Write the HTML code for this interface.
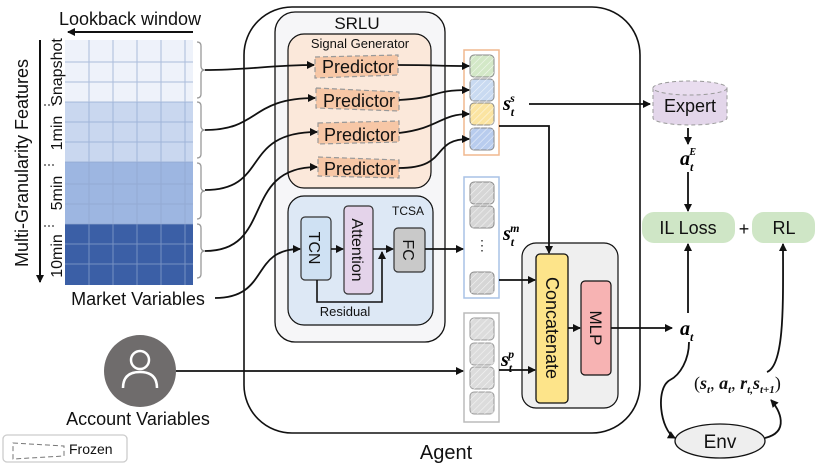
<!DOCTYPE html>
<html><head><meta charset="utf-8"><style>
html,body{margin:0;padding:0;background:#fff;}
svg{display:block;font-family:"Liberation Sans",sans-serif;}
.m{font-family:"Liberation Serif",serif;font-style:italic;font-weight:bold;}
</style></head><body>
<svg width="840" height="467" viewBox="0 0 840 467" xmlns="http://www.w3.org/2000/svg">
<defs>
<marker id="ar" markerWidth="8" markerHeight="8" refX="7" refY="4" orient="auto" markerUnits="userSpaceOnUse"><path d="M0,0 L8,4 L0,8 z" fill="#111"/></marker>
<pattern id="h" width="5" height="5" patternUnits="userSpaceOnUse" patternTransform="rotate(45)"><rect width="5" height="5" fill="none"/><line x1="0" y1="0" x2="0" y2="5" stroke="#fff" stroke-width="1.2" opacity="0.7"/></pattern>
</defs>

<rect x="65" y="40" width="128" height="62" fill="#eef2fa"/>
<rect x="65" y="102" width="128" height="60" fill="#c9d7ef"/>
<rect x="65" y="162" width="128" height="62" fill="#9db6e1"/>
<rect x="65" y="224" width="128" height="61" fill="#3b5fa6"/>
<g stroke="#8fa6cf" stroke-width="1" opacity="0.7">
<line x1="89" y1="40" x2="89" y2="285"/><line x1="113" y1="40" x2="113" y2="285"/><line x1="137" y1="40" x2="137" y2="285"/><line x1="161" y1="40" x2="161" y2="285"/><line x1="185" y1="40" x2="185" y2="285"/>
<line x1="65" y1="62" x2="193" y2="62"/><line x1="65" y1="82" x2="193" y2="82"/><line x1="65" y1="102" x2="193" y2="102"/>
<line x1="65" y1="122" x2="193" y2="122"/><line x1="65" y1="142" x2="193" y2="142"/><line x1="65" y1="162" x2="193" y2="162"/>
<line x1="65" y1="184" x2="193" y2="184"/><line x1="65" y1="204" x2="193" y2="204"/><line x1="65" y1="224" x2="193" y2="224"/>
<line x1="65" y1="244" x2="193" y2="244"/><line x1="65" y1="264" x2="193" y2="264"/>
</g>
<g fill="none" stroke="#999" stroke-width="1.3">
<path d="M197,42 q4,0 4,4 v20 q0,4 4,4 q-4,0 -4,4 v20 q0,4 -4,4"/>
<path d="M197,102 q4,0 4,4 v20 q0,4 4,4 q-4,0 -4,4 v20 q0,4 -4,4"/>
<path d="M197,163 q4,0 4,4 v20 q0,4 4,4 q-4,0 -4,4 v20 q0,4 -4,4"/>
<path d="M197,224 q4,0 4,4 v19 q0,4 4,4 q-4,0 -4,4 v19 q0,4 -4,4"/>
</g>
<text x="130" y="25" font-size="18" text-anchor="middle" fill="#111">Lookback window</text>
<line x1="193" y1="32" x2="68" y2="32" stroke="#111" stroke-width="2" marker-end="url(#ar)"/>
<line x1="40" y1="40" x2="40" y2="282" stroke="#111" stroke-width="2" marker-end="url(#ar)"/>
<text transform="translate(28,163) rotate(-90)" font-size="18" text-anchor="middle" fill="#111">Multi-Granularity Features</text>
<g font-size="16" fill="#111">
<text transform="translate(62,72) rotate(-90)" text-anchor="middle">Snapshot</text>
<text transform="translate(62,133) rotate(-90)" text-anchor="middle">1min</text>
<text transform="translate(62,193) rotate(-90)" text-anchor="middle">5min</text>
<text transform="translate(62,256) rotate(-90)" text-anchor="middle">10min</text>
</g>
<g stroke="#111" stroke-dasharray="2,2"><line x1="44" y1="105" x2="56" y2="105"/><line x1="44" y1="165" x2="56" y2="165"/><line x1="44" y1="226" x2="56" y2="226"/></g>
<text x="138" y="305" font-size="18" text-anchor="middle" fill="#111">Market Variables</text>

<circle cx="140" cy="371" r="36" fill="#6f6c6c"/>
<circle cx="140" cy="360" r="9" fill="none" stroke="#fff" stroke-width="2.5"/>
<path d="M123,388 q0,-16 17,-16 q17,0 17,16" fill="none" stroke="#fff" stroke-width="2.5"/>
<text x="138" y="425" font-size="18" text-anchor="middle" fill="#111">Account Variables</text>
<rect x="3" y="435" width="124" height="27" rx="4" fill="#fff" stroke="#ccc" stroke-width="1.3"/>
<path d="M13,443 L64,446 L64,456 L13,459 z" fill="none" stroke="#777" stroke-dasharray="5,3"/>
<text x="69" y="454" font-size="14" fill="#111">Frozen</text>

<rect x="244" y="7" width="396" height="426" rx="48" fill="#fff" stroke="#111" stroke-width="1.6"/>
<text x="446" y="459" font-size="20" text-anchor="middle" fill="#111">Agent</text>
<rect x="275" y="12" width="170" height="330" rx="20" fill="#f6f6f8" stroke="#111" stroke-width="1.3"/>
<text x="357" y="29" font-size="17" text-anchor="middle" fill="#111">SRLU</text>
<rect x="288" y="34" width="143" height="154" rx="16" fill="#fbe8da" stroke="#111" stroke-width="1.2"/>
<text x="360" y="48" font-size="13" text-anchor="middle" fill="#111">Signal Generator</text>
<g fill="#f7c7a6" stroke="#999" stroke-width="1.2" stroke-dasharray="5,3">
<path d="M315,57 L398,55 L398,75 L315,78 z"/>
<path d="M316,88 L399,92 L399,111 L316,108 z"/>
<path d="M318,123 L399,121 L399,142 L318,144 z"/>
<path d="M318,157 L399,160 L399,178 L318,176 z"/>
</g>
<g font-size="18" fill="#111" text-anchor="middle">
<text x="358" y="73">Predictor</text><text x="359" y="107">Predictor</text><text x="360" y="141">Predictor</text><text x="360" y="175">Predictor</text>
</g>
<rect x="288" y="196" width="145" height="129" rx="16" fill="#dde8f5" stroke="#111" stroke-width="1.2"/>
<text x="408" y="215" font-size="12" text-anchor="middle" fill="#111">TCSA</text>
<rect x="301" y="217" width="30" height="63" rx="4" fill="#cfe1f3" stroke="#333" stroke-width="1.2"/>
<text transform="translate(309,248) rotate(90)" font-size="16" text-anchor="middle" fill="#111">TCN</text>
<rect x="344" y="206" width="29" height="88" rx="4" fill="#e4d3ea" stroke="#333" stroke-width="1.2"/>
<text transform="translate(352,250) rotate(90)" font-size="16" text-anchor="middle" fill="#111">Attention</text>
<rect x="394" y="228" width="31" height="44" rx="4" fill="#c9c9c9" stroke="#333" stroke-width="1.2"/>
<text transform="translate(403,250) rotate(90)" font-size="16" text-anchor="middle" fill="#111">FC</text>
<text x="345" y="316" font-size="13" text-anchor="middle" fill="#111">Residual</text>
<g stroke="#111" stroke-width="1.6" fill="none">
<line x1="331" y1="249" x2="343" y2="249" marker-end="url(#ar)"/>
<line x1="373" y1="249" x2="393" y2="249" marker-end="url(#ar)"/>
<path d="M317,280 V302 H382 V252" marker-end="url(#ar)"/>
</g>

<rect x="464" y="50" width="35" height="105" fill="#fff" stroke="#f0b88f" stroke-width="1.5"/>
<rect x="470" y="55" width="24" height="22" rx="4" fill="#d3e8c7" stroke="#888"/>
<rect x="470" y="79" width="24" height="22" rx="4" fill="#c9daf1" stroke="#888"/>
<rect x="470" y="103" width="24" height="22" rx="4" fill="#fbe4a1" stroke="#888"/>
<rect x="470" y="128" width="24" height="22" rx="4" fill="#b8ccee" stroke="#888"/>
<rect x="464" y="177" width="35" height="121" fill="#fff" stroke="#a9c2e6" stroke-width="1.5"/>
<rect x="470" y="182" width="24" height="22" rx="4" fill="#d6d6d6" stroke="#888"/>
<rect x="470" y="206" width="24" height="22" rx="4" fill="#d6d6d6" stroke="#888"/>
<text x="482" y="250" font-size="14" text-anchor="middle" fill="#333">⋮</text>
<rect x="470" y="272" width="24" height="22" rx="4" fill="#d6d6d6" stroke="#888"/>
<rect x="464" y="313" width="35" height="109" fill="#fff" stroke="#bbb" stroke-width="1.5"/>
<rect x="470" y="318" width="24" height="22" rx="4" fill="#dcdcdc" stroke="#999"/>
<rect x="470" y="343" width="24" height="22" rx="4" fill="#dcdcdc" stroke="#999"/>
<rect x="470" y="367" width="24" height="22" rx="4" fill="#dcdcdc" stroke="#999"/>
<rect x="470" y="392" width="24" height="22" rx="4" fill="#dcdcdc" stroke="#999"/>
<g fill="url(#h)"><rect x="470" y="55" width="24" height="95"/><rect x="470" y="182" width="24" height="46"/><rect x="470" y="272" width="24" height="22"/><rect x="470" y="318" width="24" height="96"/></g>
<text x="503" y="110" font-size="20" class="m">s<tspan font-size="12" dy="6">t</tspan><tspan font-size="12" dx="-4" dy="-14">s</tspan></text>
<text x="503" y="240" font-size="20" class="m">s<tspan font-size="12" dy="6">t</tspan><tspan font-size="12" dx="-4" dy="-14">m</tspan></text>
<text x="501" y="366" font-size="20" class="m">s<tspan font-size="12" dy="6">t</tspan><tspan font-size="12" dx="-4" dy="-14">p</tspan></text>

<rect x="522" y="243" width="96" height="165" rx="14" fill="#efefef" stroke="#111" stroke-width="1.2"/>
<rect x="536" y="254" width="32" height="149" rx="4" fill="#fde48a" stroke="#111" stroke-width="1.3"/>
<text transform="translate(546,328) rotate(90)" font-size="18" text-anchor="middle" fill="#111">Concatenate</text>
<rect x="581" y="281" width="30" height="94" rx="4" fill="#f7b3b3" stroke="#111" stroke-width="1.2"/>
<text transform="translate(590,328) rotate(90)" font-size="17" text-anchor="middle" fill="#111">MLP</text>

<g stroke="#111" stroke-width="1.8" fill="none">
<path d="M205,70 C250,70 270,65 314,65" marker-end="url(#ar)"/>
<path d="M205,130 C260,130 250,98 315,98" marker-end="url(#ar)"/>
<path d="M205,190 C270,190 240,132 317,132" marker-end="url(#ar)"/>
<path d="M205,251 C275,251 240,167 317,167" marker-end="url(#ar)"/>
<path d="M215,298 C270,298 250,249 300,249" marker-end="url(#ar)"/>
<path d="M398,65 C440,65 430,66 469,66" marker-end="url(#ar)"/>
<path d="M399,100 C440,98 430,90 469,90" marker-end="url(#ar)"/>
<path d="M399,133 C440,128 440,114 469,114" marker-end="url(#ar)"/>
<path d="M399,168 C450,168 430,139 469,139" marker-end="url(#ar)"/>
<line x1="425" y1="249" x2="463" y2="249" marker-end="url(#ar)"/>
<line x1="176" y1="371" x2="463" y2="371" marker-end="url(#ar)"/>
<line x1="529" y1="104" x2="650" y2="104" marker-end="url(#ar)"/>
<path d="M499,126 H549 V253" marker-end="url(#ar)"/>
<line x1="499" y1="280" x2="535" y2="280" marker-end="url(#ar)"/>
<line x1="499" y1="370" x2="535" y2="370" marker-end="url(#ar)"/>
<line x1="568" y1="328" x2="580" y2="328" marker-end="url(#ar)"/>
<line x1="611" y1="328" x2="672" y2="328" marker-end="url(#ar)"/>
<line x1="688" y1="128" x2="688" y2="144" marker-end="url(#ar)"/>
<line x1="688" y1="172" x2="688" y2="211" marker-end="url(#ar)"/>
<line x1="688" y1="313" x2="688" y2="244" marker-end="url(#ar)"/>
<path d="M689,342 C689,360 680,375 670,380 C655,388 660,430 675,438" marker-end="url(#ar)"/>
<path d="M765,438 C790,432 780,410 771,400" marker-end="url(#ar)"/>
<path d="M767,372 C785,365 783,300 783,244" marker-end="url(#ar)"/>
</g>

<path d="M653,88 V118 A37,7 0 0 0 727,118 V88" fill="#e3d6ea" stroke="#999" stroke-dasharray="4,3"/>
<ellipse cx="690" cy="88" rx="37" ry="7" fill="#e9ddef" stroke="#999" stroke-dasharray="4,3"/>
<text x="690" y="112" font-size="18" text-anchor="middle" fill="#111">Expert</text>
<text x="680" y="165" font-size="20" class="m">a<tspan font-size="12" dy="6">t</tspan><tspan font-size="10" dx="-4" dy="-16">E</tspan></text>
<rect x="642" y="212" width="93" height="31" rx="12" fill="#cfe6c6"/>
<text x="688" y="234" font-size="18" text-anchor="middle" fill="#111">IL Loss</text>
<text x="744" y="235" font-size="18" text-anchor="middle" fill="#111">+</text>
<rect x="752" y="212" width="63" height="31" rx="12" fill="#cfe6c6"/>
<text x="784" y="234" font-size="18" text-anchor="middle" fill="#111">RL</text>
<text x="680" y="335" font-size="20" class="m">a<tspan font-size="12" dy="6">t</tspan></text>
<text x="694" y="389" font-size="18" fill="#111" font-family="Liberation Serif,serif">(<tspan class="m">s</tspan><tspan class="m" font-size="11" dy="4">t</tspan><tspan dy="-4">, </tspan><tspan class="m">a</tspan><tspan class="m" font-size="11" dy="4">t</tspan><tspan dy="-4">, </tspan><tspan class="m">r</tspan><tspan class="m" font-size="11" dy="4">t,</tspan><tspan class="m" dy="-4">s</tspan><tspan class="m" font-size="11" dy="4">t+1</tspan><tspan dy="-4">)</tspan></text>
<ellipse cx="720" cy="441" rx="45" ry="17" fill="#eeeeee" stroke="#111" stroke-width="1.3"/>
<text x="720" y="448" font-size="19" text-anchor="middle" fill="#111">Env</text>
</svg>
</body></html>
